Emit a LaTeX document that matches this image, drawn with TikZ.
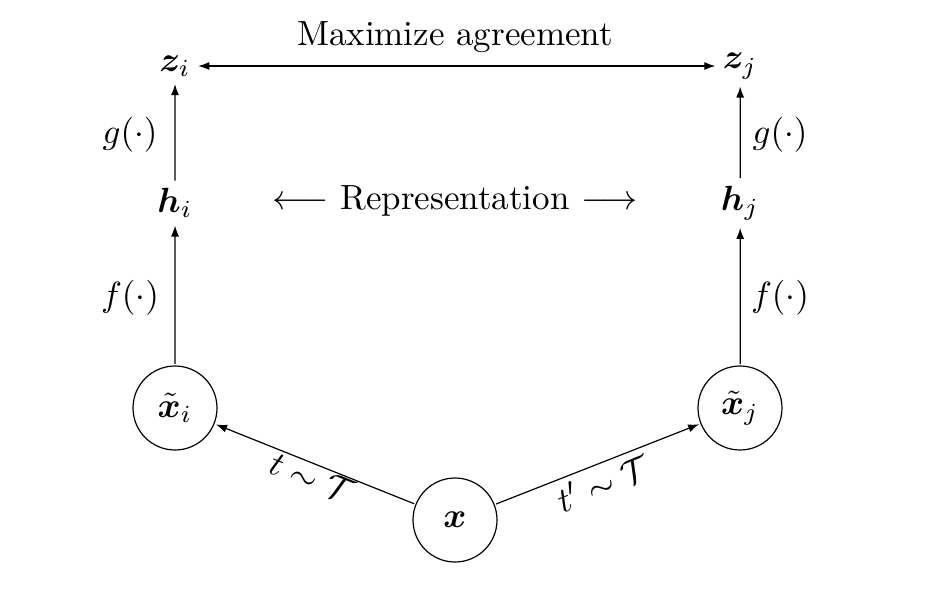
\documentclass[tikz,border=0pt]{standalone}
\usepackage{amsmath,bm}
\usetikzlibrary{arrows.meta}
\begin{document}
\begin{tikzpicture}[x=0.285714pt,y=-0.285714pt,scale=3.5,
  every node/.style={transform shape,font=\normalsize},
  circ/.style={circle,draw,line width=1.2pt,minimum size=24pt,inner sep=0pt},
  lbl/.style={inner sep=2pt},
  arr/.style={line width=1.2pt,-{Latex[length=11pt,width=8pt]}},
  darr/.style={line width=1.2pt,{Latex[length=11pt,width=8pt]}-{Latex[length=11pt,width=8pt]}}]
\useasboundingbox (0,0) rectangle (926,601);
\node[lbl] (zi) at (175,66) {$\bm{z}_i$};
\node[lbl] (zj) at (740,66) {$\bm{z}_j$};
\node[lbl] (hi) at (175,203) {$\bm{h}_i$};
\node[lbl] (hj) at (740,203) {$\bm{h}_j$};
\node[circ] (xi) at (175,408) {$\tilde{\bm{x}}_i$};
\node[circ] (xj) at (740,408) {$\tilde{\bm{x}}_j$};
\node[circ] (x) at (455,520) {$\bm{x}$};
\node[inner sep=0pt] (ma) at (455,37) {Maximize agreement};
\node[inner sep=0pt] (rep) at (455,201) {$\longleftarrow$ Representation $\longrightarrow$};
\draw[darr] (zi.east) -- (zj.west);
\draw[arr] (hi) -- (zi);
\draw[arr] (hj) -- (zj);
\draw[arr] (xi) -- (hi);
\draw[arr] (xj) -- (hj);
\draw[arr] (x) -- (xi);
\draw[arr] (x) -- (xj);
\node[inner sep=0pt] (g1) at (130,135) {$g(\cdot)$};
\node[inner sep=0pt] (g2) at (780,135) {$g(\cdot)$};
\node[inner sep=0pt] (f1) at (130,298) {$f(\cdot)$};
\node[inner sep=0pt] (f2) at (780,298) {$f(\cdot)$};
\node[inner sep=0pt,rotate=-22] (t1) at (312,478) {$t\sim\mathcal{T}$};
\node[inner sep=0pt,rotate=22] (t2) at (603,483) {$t'\sim\mathcal{T}$};
\end{tikzpicture}
\end{document}
